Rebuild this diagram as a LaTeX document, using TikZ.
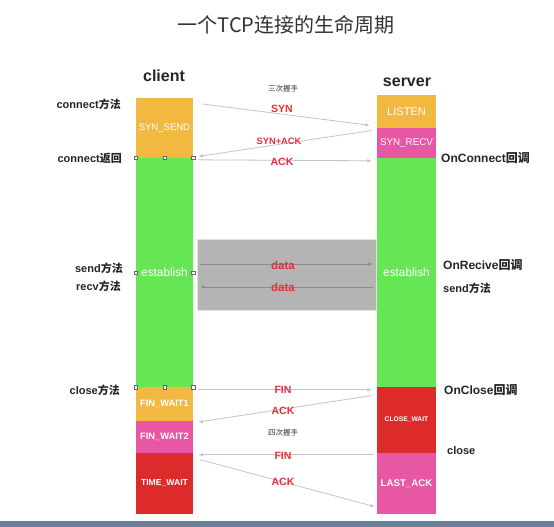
\documentclass[tikz,border=0pt]{standalone}
\usepackage{fontspec}
\setmainfont{Liberation Sans}
\newfontfamily\cjk{Noto Sans CJK SC}
\usetikzlibrary{arrows.meta}
\newcommand{\zh}[1]{{\cjk #1}}
\definecolor{corange}{HTML}{F1B941}
\definecolor{cgreen}{HTML}{66E655}
\definecolor{cpink}{HTML}{E757A3}
\definecolor{cred}{HTML}{DD2A2A}
\definecolor{clabel}{HTML}{E8303A}
\definecolor{cline}{HTML}{C4C4C4}
\definecolor{cgrey}{HTML}{B4B4B4}
\definecolor{cbar}{HTML}{6B7F99}
\tikzset{
  st/.style={rectangle, inner sep=0pt, text=white, font=\fontsize{9.5}{10}\selectfont},
  cl/.style={st, minimum width=57pt},
  sv/.style={st, minimum width=59pt},
  lbl/.style={inner sep=0pt, text=black!85, font=\bfseries\fontsize{11}{12}\selectfont},
  lblbig/.style={lbl, font=\bfseries\fontsize{12}{13}\selectfont},
  red lbl/.style={inner sep=0pt, text=clabel, font=\bfseries\fontsize{10.5}{11}\selectfont},
  note/.style={inner sep=0pt, text=black!80, font=\fontsize{7.5}{8}\selectfont},
  msg/.style={draw=cline, line width=0.8pt, -{Latex[length=4.5pt,width=3.5pt]}},
  dmsg/.style={msg, draw=black!45},
  handle/.style={rectangle, draw=black!60, fill=white, line width=0.4pt, minimum size=3.6pt, inner sep=0pt},
  head/.style={inner sep=0pt, text=black!85, font=\bfseries\fontsize{16}{17}\selectfont}
}
\begin{document}
\begin{tikzpicture}[x=1pt,y=-1pt]
\useasboundingbox (0,0) rectangle (554,527);
\fill[white] (0,0) rectangle (554,527);
\fill[cbar] (0,521) rectangle (554,527);

% title and heads
\node[inner sep=0pt, text=black!80, font=\cjk\fontsize{20}{22}\selectfont] (title) at (286,25) {一个TCP连接的生命周期};
\node[head] (client) at (164,76) {client};
\node[head] (server) at (407,82) {server};

% grey data area
\node[rectangle, fill=cgrey, draw=black!12, line width=0.6pt, minimum width=179pt, minimum height=71pt, inner sep=0pt] (gbox) at (286.5,274.5) {};

% client states
\node[cl, fill=corange, minimum height=60pt] (ss) at (164.5,128) {SYN\_SEND};
\node[cl, fill=cgreen, minimum height=229pt, font=\fontsize{11.8}{12}\selectfont] (cest) at (164.5,272.5) {establish};
\node[cl, fill=corange, minimum height=34pt, font=\bfseries\fontsize{9.3}{10}\selectfont] (fw1) at (164.5,404) {FIN\_WAIT1};
\node[cl, fill=cpink, minimum height=32pt, font=\bfseries\fontsize{9.3}{10}\selectfont] (fw2) at (164.5,437) {FIN\_WAIT2};
\node[cl, fill=cred, minimum height=61pt, font=\bfseries\fontsize{8.6}{9}\selectfont] (tw) at (164.5,483.5) {TIME\_WAIT};

% server states
\node[sv, fill=corange, minimum height=33pt, font=\fontsize{11}{12}\selectfont] (listen) at (406.5,111.5) {LISTEN};
\node[sv, fill=cpink, minimum height=30pt, font=\fontsize{9.8}{10}\selectfont] (srecv) at (406.5,143) {SYN\_RECV};
\node[sv, fill=cgreen, minimum height=229pt, font=\fontsize{11.8}{12}\selectfont] (sest) at (406.5,272.5) {establish};
\node[sv, fill=cred, minimum height=66pt, font=\bfseries\fontsize{6.7}{7}\selectfont] (cw) at (406.5,420) {CLOSE\_WAIT};
\node[sv, fill=cpink, minimum height=61pt, font=\bfseries\fontsize{9.7}{10}\selectfont] (lack) at (406.5,483.5) {LAST\_ACK};

% left labels
\node[lbl, anchor=east] (lconn) at (121,104) {connect\zh{方法}};
\node[lbl, anchor=east] (lconnr) at (122,158) {connect\zh{返回}};
\node[lbl, anchor=east] (lsend) at (123,268) {send\zh{方法}};
\node[lbl, anchor=east] (lrecv) at (121,286) {recv\zh{方法}};
\node[lbl, anchor=east] (lclose) at (120,390) {close\zh{方法}};

% right labels
\node[lblbig, anchor=west] (ronc) at (441,158) {OnConnect\zh{回调}};
\node[lblbig, anchor=west] (ronr) at (443,265) {OnRecive\zh{回调}};
\node[lbl, anchor=west] (rsend) at (443,288) {send\zh{方法}};
\node[lblbig, anchor=west] (roncl) at (444,390) {OnClose\zh{回调}};
\node[lbl, anchor=west] (rclose) at (447,451) {close};

% messages
\draw[msg, shorten <=9pt, shorten >=7pt] ([yshift=-5pt]ss.north east) -- ([yshift=2pt]listen.south west);
\draw[msg, shorten <=5pt, shorten >=5pt] ([yshift=-2pt]srecv.north west) -- ([yshift=1pt]ss.south east);
\draw[msg, shorten <=5pt, shorten >=5pt] ([yshift=-2pt]cest.north east) -- ([yshift=-3pt]sest.north west);
\draw[dmsg, shorten <=7pt, shorten >=4pt] ([yshift=8.5pt]cest.east) -- ([yshift=8.5pt]sest.west);
\draw[dmsg, shorten <=4pt, shorten >=7pt] ([yshift=-14.5pt]sest.west) -- ([yshift=-14.5pt]cest.east);
\draw[msg, shorten <=5pt, shorten >=5pt] ([yshift=-3pt]fw1.north east) -- ([yshift=-3pt]cw.north west);
\draw[msg, shorten <=5pt, shorten >=5pt] ([yshift=-8pt]cw.north west) -- ([yshift=-2pt]fw2.north east);
\draw[msg, shorten <=3pt, shorten >=5pt] ([yshift=-2pt]lack.north west) -- ([yshift=-2pt]tw.north east);
\draw[msg, shorten <=7pt, shorten >=2pt] ([yshift=-5pt]tw.north east) -- ([yshift=7pt]lack.south west);

% message labels
\node[note] (n3) at (283,89) {\zh{三次握手}};
\node[red lbl] (m1) at (282,109) {SYN};
\node[red lbl, font=\bfseries\fontsize{9.3}{10}\selectfont] (m2) at (279,141) {SYN+ACK};
\node[red lbl] (m3) at (282,162) {ACK};
\node[red lbl, font=\bfseries\fontsize{11.5}{12}\selectfont] (d1) at (283,265) {data};
\node[red lbl, font=\bfseries\fontsize{11.5}{12}\selectfont] (d2) at (283,287) {data};
\node[red lbl] (m4) at (283,390) {FIN};
\node[red lbl] (m5) at (283,411) {ACK};
\node[note] (n4) at (283,433) {\zh{四次握手}};
\node[red lbl] (m6) at (283,456) {FIN};
\node[red lbl] (m7) at (283,482) {ACK};

% selection handles
\foreach \a [count=\i] in {north west,north,north east,west,east,south west,south,south east}
  \node[handle] (h\i) at (cest.\a) {};
\end{tikzpicture}
\end{document}
